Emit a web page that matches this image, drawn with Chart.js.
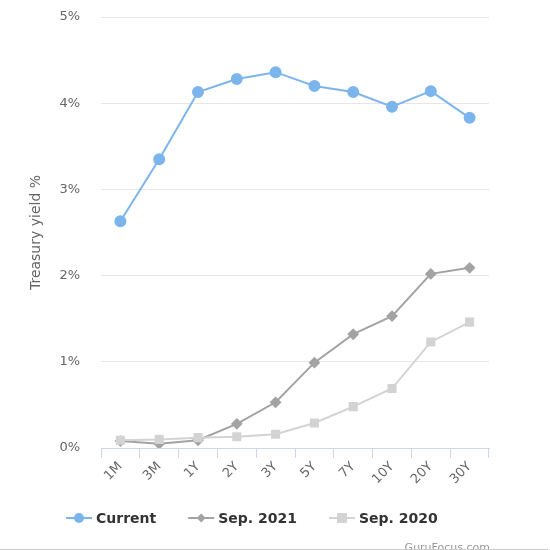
<!DOCTYPE html>
<html>
<head>
<meta charset="utf-8">
<script src="https://cdn.jsdelivr.net/npm/chart.js@4"></script>
<style>
  html, body { margin: 0; padding: 0; background: #fff; }
  #wrap { width: 550px; height: 550px; }
</style>
</head>
<body>
<div id="wrap"><canvas id="myChart" width="550" height="550"></canvas></div>
<script>
const terms = ['1M', '3M', '1Y', '2Y', '3Y', '5Y', '7Y', '10Y', '20Y', '30Y'];
const current = [2.63, 3.35, 4.13, 4.28, 4.36, 4.20, 4.13, 3.96, 4.14, 3.83];
const sep2021 = [0.08, 0.05, 0.09, 0.28, 0.53, 0.99, 1.32, 1.53, 2.02, 2.09];
const sep2020 = [0.09, 0.10, 0.12, 0.13, 0.16, 0.29, 0.48, 0.69, 1.23, 1.46];
const yTicks = [0, 1, 2, 3, 4, 5];

const FONT = 'DejaVu Sans';

// legend drawn like a line + marker sample, under the plot
const legendPlugin = {
    id: 'lineLegend',
    afterDraw(chart) {
        const c = chart.ctx;
        const y = 518;
        let x = 66;
        c.save();
        c.font = 'bold 14px "' + FONT + '"';
        c.textBaseline = 'middle';
        chart.data.datasets.forEach(ds => {
            c.strokeStyle = ds.borderColor;
            c.lineWidth = 2;
            c.beginPath();
            c.moveTo(x, y);
            c.lineTo(x + 26, y);
            c.stroke();
            c.fillStyle = ds.borderColor;
            const r = ds.pointRadius;
            c.beginPath();
            if (ds.pointStyle === 'circle') {
                c.arc(x + 13, y, r, 0, Math.PI * 2);
            } else if (ds.pointStyle === 'rectRot') {
                c.moveTo(x + 13, y - r); c.lineTo(x + 13 + r, y);
                c.lineTo(x + 13, y + r); c.lineTo(x + 13 - r, y);
                c.closePath();
            } else {
                c.rect(x + 13 - r, y - r, r * 2, r * 2);
            }
            c.fill();
            c.fillStyle = '#333333';
            c.fillText(ds.label, x + 30, y + 1);
            x += 30 + c.measureText(ds.label).width + 32;
        });
        // credit
        c.font = '11px "' + FONT + '"';
        c.fillStyle = '#999999';
        c.textAlign = 'right';
        c.textBaseline = 'alphabetic';
        c.fillText('GuruFocus.com', 490, 551);
        c.strokeStyle = '#cccccc';
        c.lineWidth = 1;
        c.beginPath();
        c.moveTo(0, 549.5);
        c.lineTo(548, 549.5);
        c.stroke();
        c.restore();
    }
};

new Chart(document.getElementById('myChart').getContext('2d'), {
    type: 'line',
    data: {
        labels: terms,
        datasets: [
            {
                label: 'Current',
                data: current,
                borderColor: '#7cb5ec',
                backgroundColor: '#7cb5ec',
                pointStyle: 'circle',
                pointRadius: 5,
                borderWidth: 2,
                order: 0
            },
            {
                label: 'Sep. 2021',
                data: sep2021,
                borderColor: '#a3a3a3',
                backgroundColor: '#a3a3a3',
                pointStyle: 'rectRot',
                pointRadius: 4.5,
                borderWidth: 2,
                order: 2
            },
            {
                label: 'Sep. 2020',
                data: sep2020,
                borderColor: '#d3d3d3',
                backgroundColor: '#d3d3d3',
                pointStyle: 'rect',
                pointRadius: 5,
                borderWidth: 2,
                order: 1
            }
        ]
    },
    options: {
        responsive: false,
        animation: false,
        layout: { padding: { left: 0, right: 61, top: 17, bottom: 0 } },
        elements: { line: { tension: 0 }, point: { borderWidth: 0 } },
        scales: {
            x: {
                offset: true,
                grid: {
                    offset: true,
                    drawOnChartArea: false,
                    color: '#ccd6eb',
                    tickLength: 10
                },
                border: { color: '#ccd6eb' },
                ticks: {
                    minRotation: 45,
                    maxRotation: 45,
                    color: '#666666',
                    padding: 1,
                    font: { family: FONT, size: 13 }
                },
                afterFit(scale) { scale.height = 102; }
            },
            y: {
                min: 0,
                max: 5,
                afterBuildTicks(scale) { scale.ticks = yTicks.map(v => ({ value: v })); },
                grid: { color: '#e6e6e6', drawTicks: false },
                border: { display: false },
                ticks: {
                    color: '#666666',
                    padding: 21,
                    font: { family: FONT, size: 13 },
                    callback: v => v + '%'
                },
                title: {
                    display: true,
                    text: 'Treasury yield %',
                    color: '#666666',
                    padding: { top: 28, bottom: 0 },
                    font: { family: FONT, size: 14 }
                },
                afterFit(scale) {
                    scale.width = 101;
                    scale.paddingTop = 0;
                    scale.paddingBottom = 0;
                }
            }
        },
        plugins: {
            legend: { display: false },
            tooltip: { enabled: false }
        }
    },
    plugins: [legendPlugin]
});
</script>
</body>
</html>
